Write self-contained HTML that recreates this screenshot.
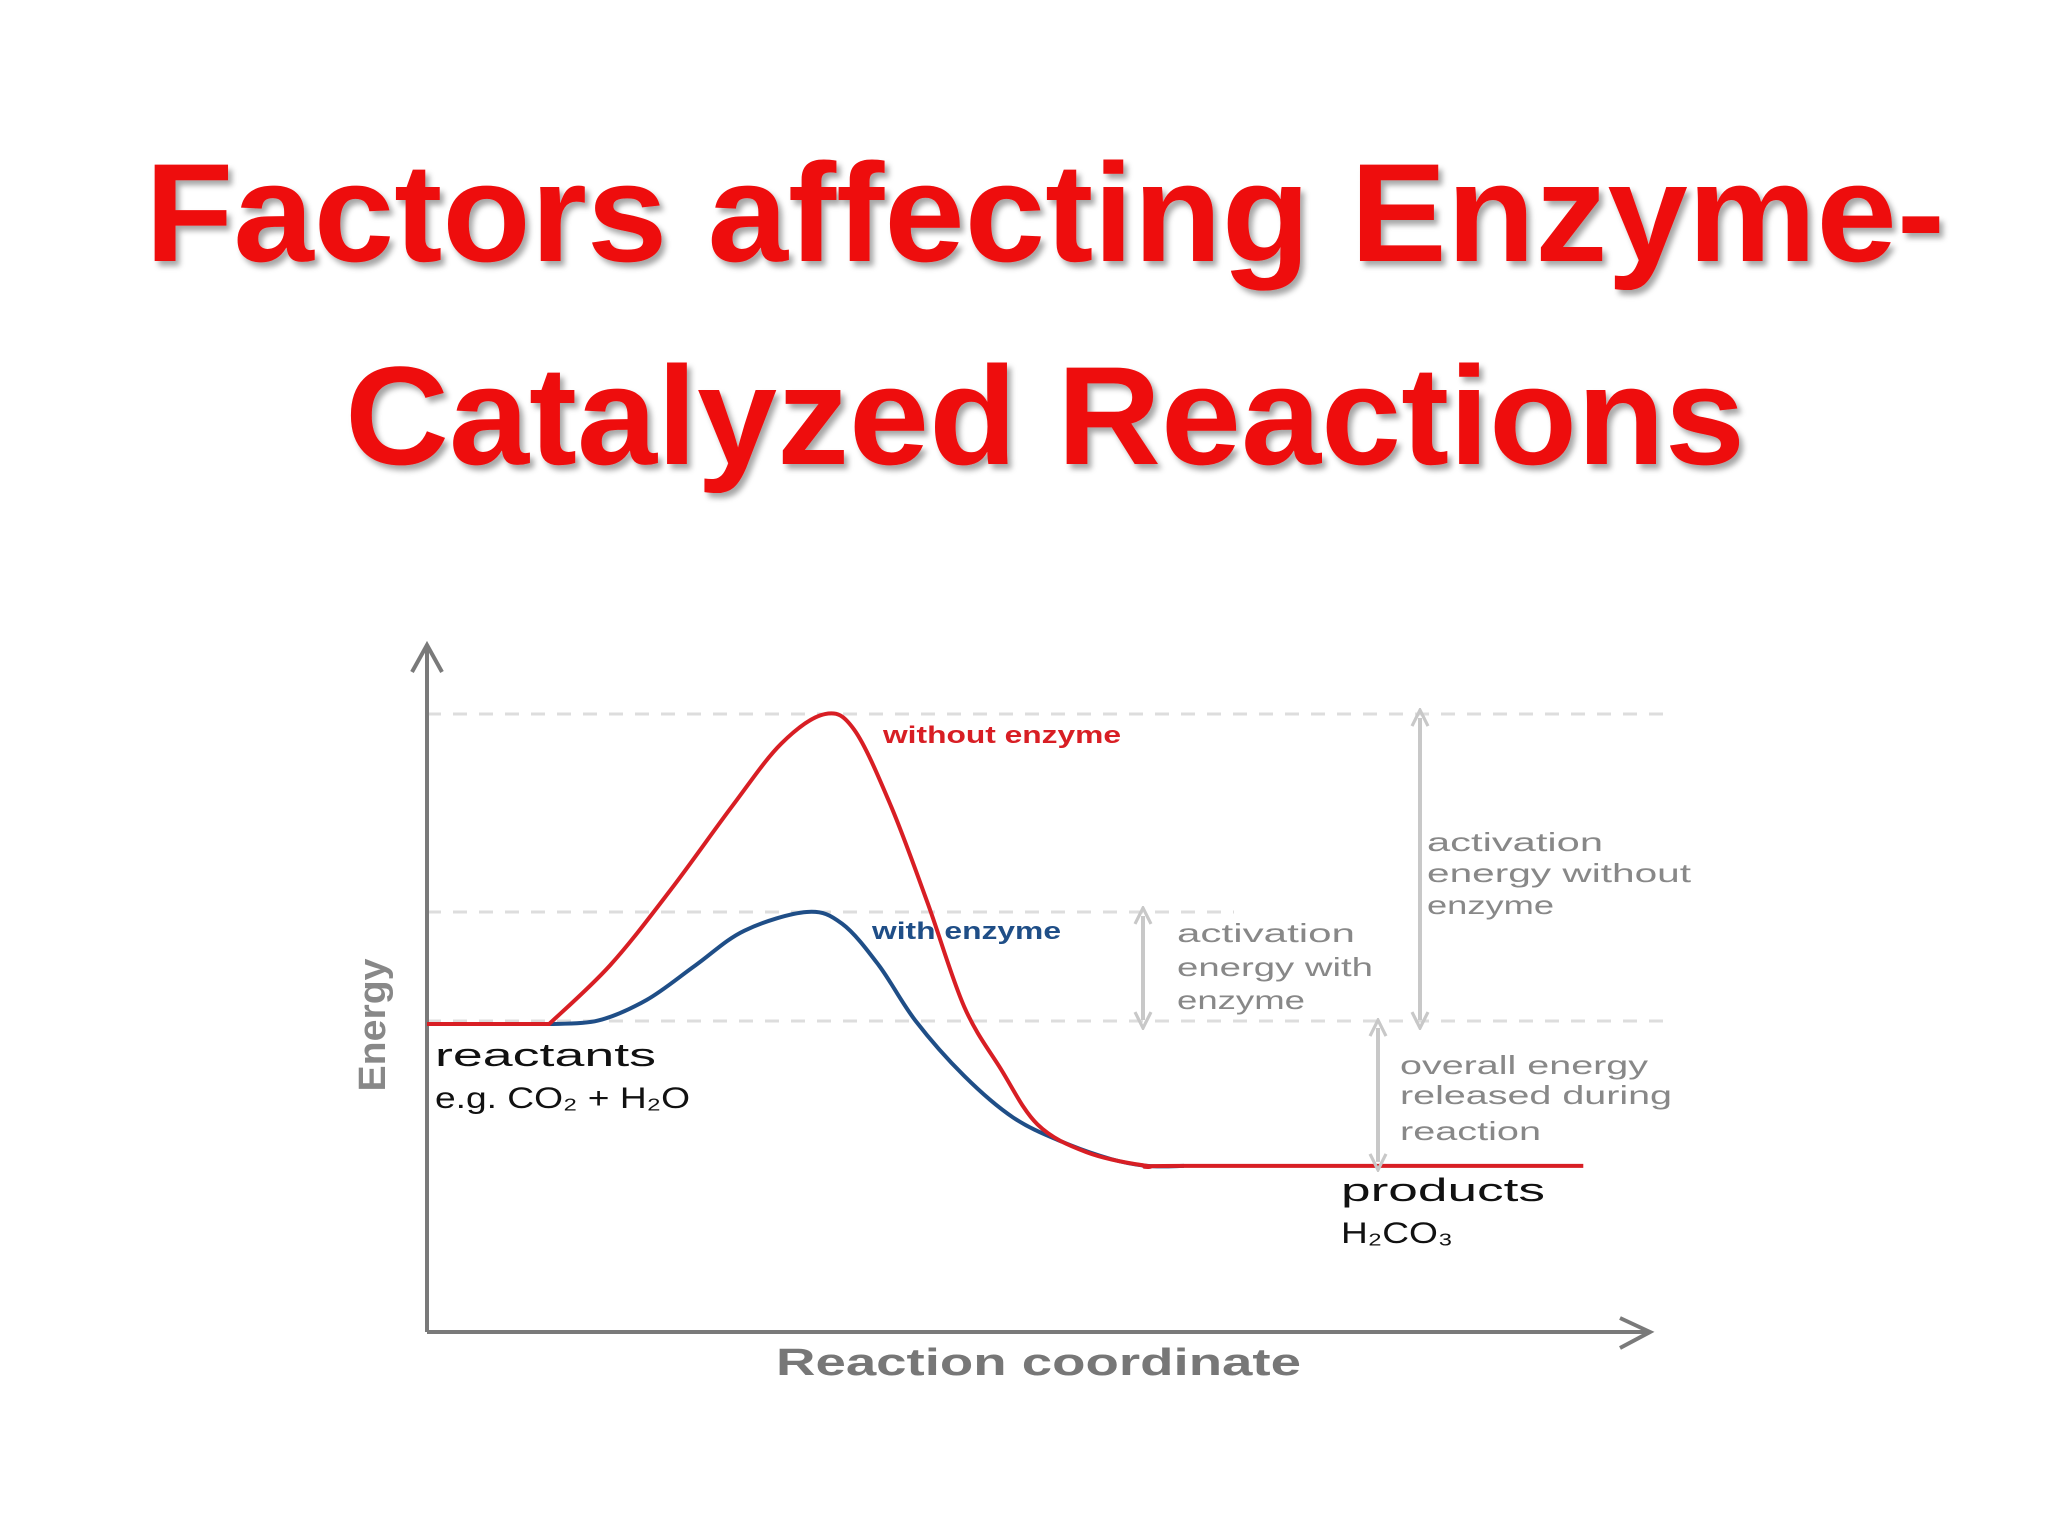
<!DOCTYPE html>
<html><head><meta charset="utf-8"><style>
html,body{margin:0;padding:0;background:#fff;}
svg{display:block;}
</style></head><body>
<svg id="chart" width="2048" height="1536" viewBox="0 0 2048 1536" xmlns="http://www.w3.org/2000/svg">
<defs>
<filter id="sh" x="-5%" y="-5%" width="110%" height="120%"><feDropShadow dx="4" dy="5" stdDeviation="3" flood-color="#000" flood-opacity="0.35"/></filter>
<marker id="ah" viewBox="0 0 10 10" refX="5" refY="5" markerWidth="5" markerHeight="5" orient="auto-start-reverse"><path d="M1,1 L9,5 L1,9" fill="none" stroke="#c8c8c8" stroke-width="1.6"/></marker>
</defs>
<g filter="url(#sh)" fill="#ee0a0a" font-family="Liberation Sans, sans-serif" font-weight="bold" text-anchor="middle">
<text x="1045" y="261" font-size="140" textLength="1800" lengthAdjust="spacingAndGlyphs">Factors affecting Enzyme-</text>
<text x="1045" y="464" font-size="140" textLength="1400" lengthAdjust="spacingAndGlyphs">Catalyzed Reactions</text>
</g>
<g id="plot"></g>
</svg>
<script>
const redX=[0,10,15,20,25,29,32.6,35,38,41,44,47,50,54,59,62,94.7];
const redE=[44.5,44.5,53,64,76,85,89.3,87,76,62,47,38,30,26,24,24,24];
const blueX=[0,10,14,18,22,26,31.1,34,37,40,44,48,52,56,59,62];
const blueE=[44.5,44.5,45,48,53,58,60.7,59,53,45,37,31,27.5,25,24,24];
const reactantE=44.5, productE=24, redPeakE=89.3, bluePeakE=60.7;
const sx=v=>427+v*12.21, sy=e=>1332-e*6.92;
const NS='http://www.w3.org/2000/svg', g=document.getElementById('plot');
function mk(t,a,txt){const e=document.createElementNS(NS,t);for(const k in a)e.setAttribute(k,a[k]);if(txt!=null)e.textContent=txt;g.appendChild(e);return e;}
// straight first segment, Catmull-Rom smoothing afterwards
function path(xs,es){const p=xs.map((x,i)=>[sx(x),sy(es[i])]);let d='M'+p[0][0]+','+p[0][1]+' L'+p[1][0]+','+p[1][1];
for(let i=1;i<p.length-1;i++){const p0=p[Math.max(i-1,1)],p1=p[i],p2=p[i+1],p3=p[Math.min(i+2,p.length-1)];
d+=' C'+(p1[0]+(p2[0]-p0[0])/6)+','+(p1[1]+(p2[1]-p0[1])/6)+' '+(p2[0]-(p3[0]-p1[0])/6)+','+(p2[1]-(p3[1]-p1[1])/6)+' '+p2[0]+','+p2[1];}return d;}
let e;
e=mk('line',{x1:sx(0),x2:1665,y1:sy(redPeakE),y2:sy(redPeakE),stroke:'#ddd','stroke-width':3,'stroke-dasharray':'14 12'});

e=mk('line',{x1:sx(0),x2:1234,y1:sy(bluePeakE),y2:sy(bluePeakE),stroke:'#ddd','stroke-width':3,'stroke-dasharray':'14 12'});

e=mk('line',{x1:sx(0),x2:1665,y1:sy(reactantE)-3,y2:sy(reactantE)-3,stroke:'#ddd','stroke-width':3,'stroke-dasharray':'14 12'});

e=mk('path',{d:'M427,1332 L427,645 M412,672 L427,645 L442,672',fill:'none',stroke:'#7a7a7a','stroke-width':4});

e=mk('path',{d:'M427,1332 L1650,1332 M1620,1318 L1650,1332 L1620,1348',fill:'none',stroke:'#7a7a7a','stroke-width':4});

e=mk('path',{d:path(blueX,blueE),fill:'none',stroke:'#1f4e87','stroke-width':4});

e=mk('path',{d:path(redX,redE),fill:'none',stroke:'#d81e24','stroke-width':4});

function arr(name,x,e1,e2){const a=mk('line',{x1:x,x2:x,y1:sy(e1)+4,y2:sy(e2)-4,stroke:'#c8c8c8','stroke-width':4,'marker-start':'url(#ah)','marker-end':'url(#ah)'});}
arr('arrow-activation-without',1420,redPeakE,reactantE);
arr('arrow-activation-with',1143,bluePeakE,reactantE);
arr('arrow-overall-energy',1378,reactantE,productE);
function txt(name,x,y,s,w,o){const t=mk('text',Object.assign({x:x,y:y,'font-family':'Liberation Sans, sans-serif','font-size':26,fill:'#888',textLength:w,lengthAdjust:'spacingAndGlyphs'},o||{}),s);return t;}
txt('label-without-enzyme',883,743,'without enzyme',238,{fill:'#d81e24','font-weight':'bold','font-size':24});
txt('label-with-enzyme',872,939,'with enzyme',189,{fill:'#1f4e87','font-weight':'bold','font-size':24});
txt('note-activation-without-1',1427,851,'activation',176);
txt('note-activation-without-2',1427,882,'energy without',264);
txt('note-activation-without-3',1427,914,'enzyme',127);
txt('note-activation-with-1',1177,942,'activation',178);
txt('note-activation-with-2',1177,976,'energy with',196);
txt('note-activation-with-3',1177,1009,'enzyme',128);
txt('note-overall-1',1400,1074,'overall energy',248);
txt('note-overall-2',1400,1104,'released during',272);
txt('note-overall-3',1400,1140,'reaction',141);
txt('label-reactants',435,1066,'reactants',221,{fill:'#111','font-size':32});
txt('label-reactants-example',435,1108,'e.g. CO\u2082 + H\u2082O',255,{fill:'#111','font-size':30});
txt('label-products',1341,1201,'products',204,{fill:'#111','font-size':32});
txt('label-products-formula',1341,1243,'H\u2082CO\u2083',112,{fill:'#111','font-size':30});
txt('x-axis-title',776,1375,'Reaction coordinate',525,{fill:'#777','font-size':38,'font-weight':'bold'});
txt('y-axis-title',0,0,'Energy',133,{fill:'#888','font-size':38,'font-weight':'bold','text-anchor':'middle',transform:'translate(385,1025) rotate(-90)'});
</script>
</body></html>
